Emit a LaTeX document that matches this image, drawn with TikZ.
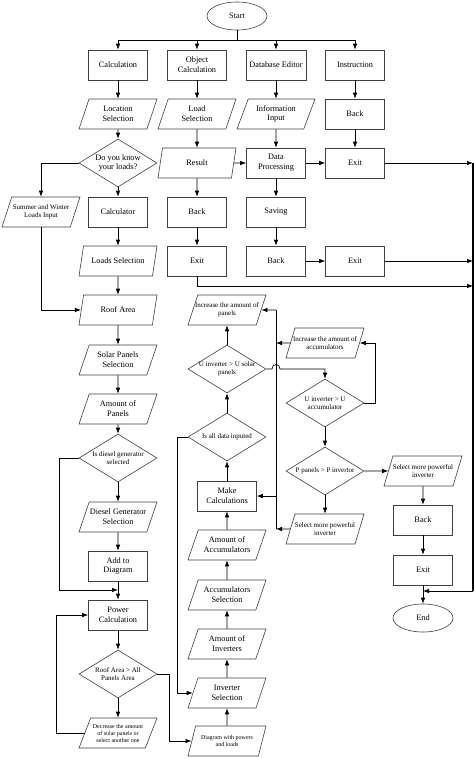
\documentclass[tikz,border=0pt]{standalone}
\usepackage{fontspec}
\setmainfont{Liberation Serif}
\usetikzlibrary{arrows.meta,positioning,shapes.geometric}

\begin{document}
\begin{tikzpicture}[
    x=1pt, y=-1pt, line width=0.7pt,
    >={Latex[length=6pt,width=4.5pt]},
    every node/.style={draw=black!75, line width=0.6pt, align=center, font=\fontsize{8.3}{9.8}\selectfont},
    proc/.style={rectangle, minimum width=59pt, minimum height=30pt},
    io/.style={trapezium, trapezium left angle=60, trapezium right angle=120, trapezium stretches body,
      minimum width=78pt, minimum height=30pt, inner xsep=-4pt, inner ysep=1pt},
    dec/.style={diamond, aspect=1.6, minimum width=78pt, minimum height=48pt, inner sep=-6pt},
    term/.style={ellipse, minimum width=60pt, minimum height=28pt},
    small/.style={font=\fontsize{7}{8.5}\selectfont},
    tiny/.style={font=\fontsize{6}{7}\selectfont}
  ]
  \useasboundingbox (0,0) rectangle (474,758);

  % top rows
  \node[term] (start) at (237,16) {Start};
  \node[proc] (calc) at (118,65) {Calculation};
  \node[proc] (objcalc) at (197,65) {Object\\Calculation};
  \node[proc] (dbedit) at (276,65) {Database Editor};
  \node[proc] (instr) at (355,65) {Instruction};
  \node[io] (locsel) at (118,114) {Location\\Selection};
  \node[io] (loadsel) at (197,114) {Load\\Selection};
  \node[io] (infoin) at (276,114) {Information\\Input};
  \node[proc] (back1) at (355,114) {Back};
  \node[dec] (know) at (118,163) {Do you know\\your loads?};
  \node[io] (result) at (197,163) {Result};
  \node[proc] (dataproc) at (276,163) {Data\\Processing};
  \node[proc] (exit1) at (355,163) {Exit};
  \node[io, small] (summer) at (41,212) {Summer and Winter\\Loads Input};
  \node[proc] (calculator) at (118,212) {Calculator};
  \node[proc] (back2) at (197,212) {Back};
  \node[proc] (saving) at (276,212) {Saving};
  \node[io] (loadsin) at (118,261) {Loads Selection};
  \node[proc] (exit2) at (197,261) {Exit};
  \node[proc] (back3) at (276,261) {Back};
  \node[proc] (exit3) at (355,261) {Exit};

  % left column
  \node[io] (roof) at (118,310) {Roof Area};
  \node[io] (solar) at (118,360) {Solar Panels\\Selection};
  \node[io] (amtpan) at (118,409) {Amount of\\Panels};
  \node[dec, small] (diesel) at (118,458) {Is diesel generator\\selected};
  \node[io] (dgsel) at (118,517) {Diesel Generator\\Selection};
  \node[proc] (adddiag) at (118,566) {Add to\\Diagram};
  \node[proc] (powercalc) at (118,615) {Power\\Calculation};
  \node[dec, small] (roofdia) at (118,674) {Roof Area > All\\Panels Area};
  \node[io, tiny] (decrease) at (118,733) {Decrease the amount\\of solar panels or\\select another one};

  % middle column
  \node[io, tiny] (diagram) at (227,741) {Diagram with powers\\and loads};
  \node[io] (invsel) at (227,693) {Inverter\\Selection};
  \node[io] (amtinv) at (227,644) {Amount of\\Inverters};
  \node[io] (accsel) at (227,595) {Accumulators\\Selection};
  \node[io] (amtacc) at (227,545) {Amount of\\Accumulators};
  \node[proc] (makecalc) at (227,496) {Make\\Calculations};
  \node[dec, small] (alldata) at (227,437) {Is all data inputed};
  \node[dec, small] (usolar) at (227,369) {U inverter > U solar\\panels};
  \node[io, small] (incpan) at (227,310) {Increase the amount of\\panels};

  % right columns
  \node[io, small] (incacc) at (325,343) {Increase the amount of\\accumulators};
  \node[dec, small] (uacc) at (325,403) {U inverter > U\\accumulator};
  \node[dec, small] (ppanel) at (325,471) {P panels > P invertor};
  \node[io, small] (selinv1) at (325,529) {Select more powerful\\inverter};
  \node[io, small] (selinv2) at (423,471) {Select more powerful\\inverter};
  \node[proc] (back4) at (423,520) {Back};
  \node[proc] (exit4) at (423,570) {Exit};
  \node[term] (finish) at (423,618) {End};

  \coordinate (topbus) at (237,40);
  \coordinate (dgjoin) at (118,590);
  \coordinate (jtop) at (276,310);
  \coordinate (jbot) at (276,529);
  \coordinate (rtop) at (473,163);
  \coordinate (rmid) at (473,286);
  \coordinate (rbot) at (473,591);

  \draw (start) -- (topbus);
  \foreach \n in {calc, objcalc, dbedit, instr}
    \draw[->] (topbus) -| (\n);
  \foreach \a/\b in {calc/locsel, locsel/know, know/calculator, calculator/loadsin, loadsin/roof,
      roof/solar, solar/amtpan, amtpan/diesel, diesel/dgsel, dgsel/adddiag, adddiag/powercalc,
      powercalc/roofdia, roofdia/decrease, objcalc/loadsel, loadsel/result, result/back2, back2/exit2,
      dbedit/infoin, infoin/dataproc, dataproc/saving, saving/back3, instr/back1, back1/exit1,
      result/dataproc, dataproc/exit1, back3/exit3, diagram/invsel, invsel/amtinv, amtinv/accsel,
      accsel/amtacc, amtacc/makecalc, makecalc/alldata, alldata/usolar, usolar/incpan,
      uacc/ppanel, ppanel/selinv1, ppanel/selinv2, selinv2/back4, back4/exit4, exit4/finish}
    \draw[->] (\a) -- (\b);

  \draw[->] (know.west) -| (summer);
  \draw[->] (summer) |- (roof);
  \draw[->] (diesel.west) -- ++(-19,0) |- (dgjoin);
  \draw[->] (decrease.west) -- ++(-28,0) |- (powercalc.west);
  \draw[->] (roofdia.east) -- ++(12,0) |- (diagram);
  \draw[->] (alldata.west) -- ++(-10,0) |- (invsel);

  % collecting line
  \draw (jtop) -- (jbot);
  \draw[->] (jtop) -- (incpan);
  \draw[->] (incacc) -- (incacc -| jtop);
  \draw[->] (selinv1) -- (jbot);
  \draw[->] (makecalc -| jtop) -- (makecalc);
  \draw[->] (usolar.east) -- ([xshift=-4pt]jtop |- usolar.east)
    .. controls +(0,-6) and +(0,-6) .. ([xshift=4pt]jtop |- usolar.east) -| (uacc);
  \draw[->] (uacc.east) -- ++(11,0) |- (incacc);

  % to the end
  \draw[->] (exit1) -- (rtop);
  \draw[->] (exit3) -- (exit3 -| rtop);
  \draw[->] (exit2) |- (rmid);
  \draw[line width=1.6pt] (rtop) -- (rbot);
  \draw[->] (rbot) -- (rbot -| finish);
\end{tikzpicture}
\end{document}
